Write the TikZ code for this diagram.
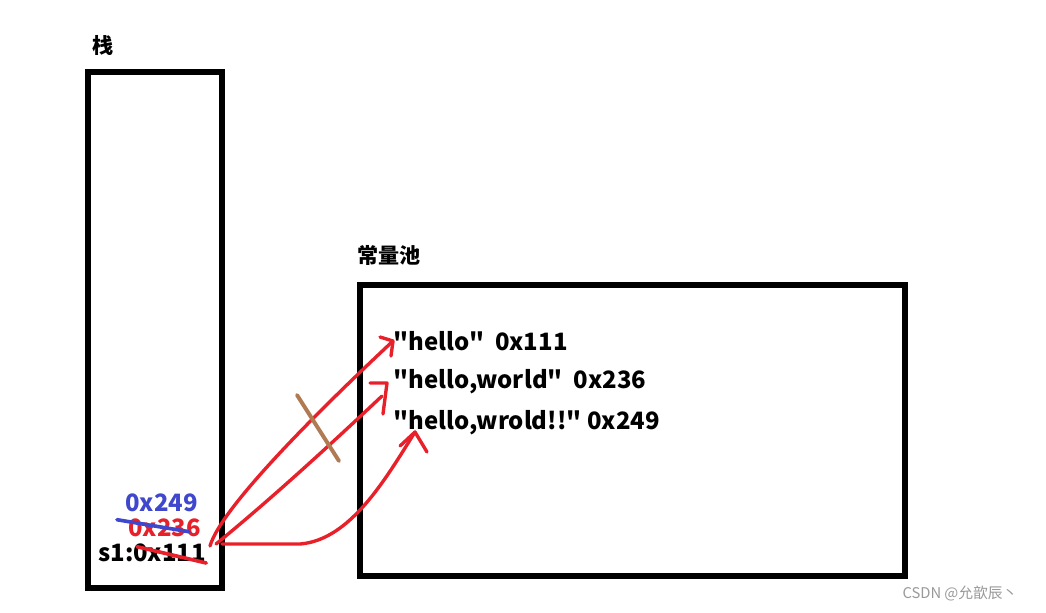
\documentclass[tikz,border=0pt]{standalone}
\usepackage{fontspec}
\setmainfont{Noto Sans CJK SC}[Ligatures=TeXOff]
\usepackage{tikz}
\usetikzlibrary{calc}
\definecolor{penred}{HTML}{E8202A}
\definecolor{penblue}{HTML}{3F48CC}
\definecolor{penbrown}{HTML}{B07A52}
\tikzset{
  box/.style    = {line width=3.6pt},
  title/.style  = {font=\bfseries\fontsize{15}{18}\selectfont,inner sep=0pt},
  lbl/.style    = {font=\bfseries\fontsize{17}{20}\selectfont,inner sep=0pt,anchor=west},
  redpen/.style = {penred,line width=2.4pt,line cap=round,line join=round},
  strike/.style = {line width=2.6pt,line cap=round},
  wmark/.style  = {font=\fontsize{10.5}{12}\selectfont,gray!80,inner sep=0pt}
}
\newcommand{\hook}[3]{%
  \draw[redpen] #1 -- #2 -- #3;
}

\begin{document}
\begin{tikzpicture}[x=0.025cm,y=-0.025cm]
  \useasboundingbox (0,0) rectangle (1046,612);
  % stack
  \draw[box] (88,72) rectangle (222,588);
  \node[title] (stk) at (103,45) {栈};
  % constant pool
  \draw[box] (360,285) rectangle (905,576);
  \node[title] (pool) at (389,255) {常量池};
  \node[lbl] (h1) at (393,341) {"hello"\ \ 0x111};
  \node[lbl] (h2) at (393,382) {"hello,world"\ \ 0x236};
  \node[lbl] (h3) at (393,423) {"hello,wrold!!" 0x249};
  % slot s1
  \node[lbl] (s1) at (98,553) {s1:0x111};
  \node[lbl,penred] (v2) at (128,528) {0x236};
  \node[lbl,penblue] (v3) at (125,503) {0x249};
  \draw[strike,penblue] ($(v2.north west)+(-11,1)$) -- ($(v2.north east)+(-12,13)$);
  \draw[strike,penred] ($(s1.north west)+(39,3)$) -- ($(s1.east)+(0,10)$);
  % references
  \coordinate (src) at (216,544);
  \coordinate (e2) at ($(h2.west)+(-11,14)$);
  \coordinate (e3) at ($(h3.west)+(22,9)$);
  \draw[redpen] ($(src)+(-6,2)$) .. controls (222,505) and (330,400) .. (h1.west);
  \hook{(380,337)}{(h1.west)}{(391,356)}
  \draw[redpen] (src) .. controls (270,500) and (330,445) .. (e2);
  \hook{(370,383)}{(387,383)}{(383,414)}
  \draw[redpen] ($(src)+(6,0)$) -- (300,544) .. controls (350,540) and (385,480) .. (e3);
  \hook{(400,446)}{(e3)}{(427,452)}
  \draw[penbrown,line width=2.8pt,line cap=round] (297,395) -- (339,461);
  \node[wmark] (wm) at (960,594) {CSDN @允歆辰丶};
\end{tikzpicture}
\end{document}
